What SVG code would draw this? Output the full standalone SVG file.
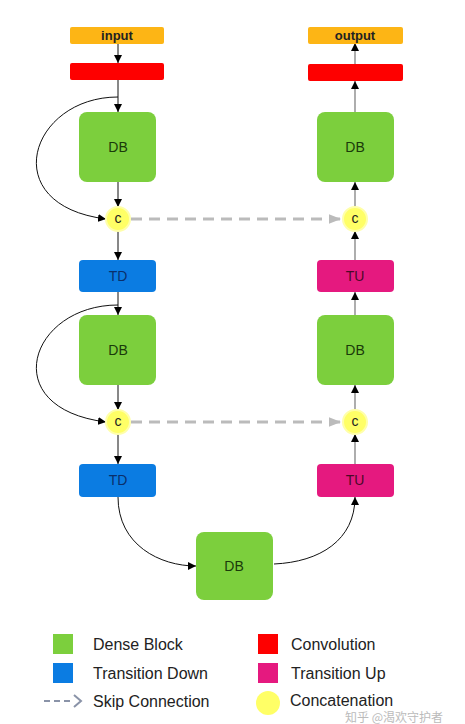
<svg xmlns="http://www.w3.org/2000/svg" width="465" height="724" viewBox="0 0 465 724">
<style>
.t{font-family:"Liberation Sans",Arial,sans-serif;}
.db{fill:#7ccf3d;}
.td{fill:#0b7ce2;}
.tu{fill:#e5197f;}
.cv{fill:#fe0000;}
.io{fill:#fdb515;}
.cc{fill:#ffff66;stroke:#ffffaa;stroke-width:2;}
.lbl{font-family:"Liberation Sans",Arial,sans-serif;font-size:14px;text-anchor:middle;}
.leg{font-family:"Liberation Sans",Arial,sans-serif;font-size:16px;fill:#222;}
.bl{stroke:#111;stroke-width:1;fill:none;}
.gr{stroke:#777;stroke-width:1.2;fill:none;}
.sk{stroke:#bbbbbb;stroke-width:3;fill:none;stroke-dasharray:11 7;}
</style>
<defs>
<marker id="ah" viewBox="0 0 10 10" refX="10" refY="5" markerWidth="8" markerHeight="8" markerUnits="userSpaceOnUse" orient="auto"><path d="M0,0 L10,5 L0,10 z" fill="#000"/></marker>
<marker id="ahg" viewBox="0 0 10 10" refX="10" refY="5" markerWidth="12" markerHeight="12" markerUnits="userSpaceOnUse" orient="auto"><path d="M0,1 L10,5 L0,9 z" fill="#bbbbbb"/></marker>
</defs>
<rect width="465" height="724" fill="#fff"/>
<g id="connectors">
<line class="bl" x1="118" y1="44" x2="118" y2="63" marker-end="url(#ah)"/>
<line class="bl" x1="118" y1="80" x2="118" y2="112" marker-end="url(#ah)"/>
<path class="bl" d="M118,97 C30,97 -5,205 106,219" marker-end="url(#ah)"/>
<line class="bl" x1="118" y1="182" x2="118" y2="207" marker-end="url(#ah)"/>
<line class="bl" x1="118" y1="231" x2="118" y2="260" marker-end="url(#ah)"/>
<line class="bl" x1="118" y1="292" x2="118" y2="315" marker-end="url(#ah)"/>
<path class="bl" d="M118,305 C30,305 -5,408 106,422" marker-end="url(#ah)"/>
<line class="bl" x1="118" y1="385" x2="118" y2="410" marker-end="url(#ah)"/>
<line class="bl" x1="118" y1="434" x2="118" y2="464" marker-end="url(#ah)"/>
<path class="bl" d="M118,497 C118,545 160,566 196,566" marker-end="url(#ah)"/>
<path class="bl" d="M274,564 C320,562 355,540 355,497" marker-end="url(#ah)"/>
<line class="gr" x1="355" y1="464" x2="355" y2="434" marker-end="url(#ah)"/>
<line class="gr" x1="355" y1="410" x2="355" y2="385" marker-end="url(#ah)"/>
<line class="gr" x1="355" y1="315" x2="355" y2="292" marker-end="url(#ah)"/>
<line class="gr" x1="355" y1="260" x2="355" y2="231" marker-end="url(#ah)"/>
<line class="gr" x1="355" y1="207" x2="355" y2="182" marker-end="url(#ah)"/>
<line class="gr" x1="355" y1="112" x2="355" y2="81" marker-end="url(#ah)"/>
<line class="gr" x1="355" y1="64" x2="355" y2="43" marker-end="url(#ah)"/>
<line class="sk" x1="131" y1="219" x2="341" y2="219" marker-end="url(#ahg)"/>
<line class="sk" x1="131" y1="422" x2="341" y2="422" marker-end="url(#ahg)"/>
</g>
<g id="input"><rect class="io" x="70" y="27" width="94" height="17" rx="2"/><text class="t" x="117" y="40" font-size="13" font-weight="bold" text-anchor="middle" fill="#222">input</text></g>
<g id="conv-in"><rect class="cv" x="70" y="63" width="94" height="17" rx="2"/></g>
<g id="output"><rect class="io" x="308" y="27" width="95" height="17" rx="2"/><text class="t" x="355" y="40" font-size="13" font-weight="bold" text-anchor="middle" fill="#222">output</text></g>
<g id="conv-out"><rect class="cv" x="308" y="64" width="95" height="17" rx="2"/></g>
<g id="db1"><rect class="db" x="79" y="112" width="77" height="70" rx="8"/><text class="lbl" x="118" y="152" fill="#1a3a0a">DB</text></g>
<g id="c1"><circle class="cc" cx="118" cy="219" r="12"/><text class="lbl" x="118" y="223" font-size="11" fill="#222">c</text></g>
<g id="td1"><rect class="td" x="79" y="260" width="77" height="32" rx="4"/><text class="lbl" x="118" y="281" fill="#0a2f6a">TD</text></g>
<g id="db2"><rect class="db" x="79" y="315" width="77" height="70" rx="8"/><text class="lbl" x="118" y="355" fill="#1a3a0a">DB</text></g>
<g id="c2"><circle class="cc" cx="118" cy="422" r="12"/><text class="lbl" x="118" y="426" font-size="11" fill="#222">c</text></g>
<g id="td2"><rect class="td" x="79" y="464" width="77" height="33" rx="4"/><text class="lbl" x="118" y="485" fill="#0a2f6a">TD</text></g>
<g id="db-bottom"><rect class="db" x="196" y="532" width="77" height="68" rx="8"/><text class="lbl" x="234" y="571" fill="#1a3a0a">DB</text></g>
<g id="tu2"><rect class="tu" x="317" y="464" width="77" height="33" rx="4"/><text class="lbl" x="355" y="485" fill="#4a0a28">TU</text></g>
<g id="c4"><circle class="cc" cx="355" cy="422" r="12"/><text class="lbl" x="355" y="426" font-size="11" fill="#222">c</text></g>
<g id="db4"><rect class="db" x="317" y="315" width="77" height="70" rx="8"/><text class="lbl" x="355" y="355" fill="#1a3a0a">DB</text></g>
<g id="tu1"><rect class="tu" x="317" y="260" width="77" height="32" rx="4"/><text class="lbl" x="355" y="281" fill="#4a0a28">TU</text></g>
<g id="c3"><circle class="cc" cx="355" cy="219" r="12"/><text class="lbl" x="355" y="223" font-size="11" fill="#222">c</text></g>
<g id="db3"><rect class="db" x="317" y="112" width="77" height="70" rx="8"/><text class="lbl" x="355" y="152" fill="#1a3a0a">DB</text></g>
<g id="legend">
<rect class="db" x="53" y="634" width="20" height="20"/>
<text class="leg" x="93" y="650">Dense Block</text>
<rect class="cv" x="258" y="634" width="20" height="20"/>
<text class="leg" x="291" y="650">Convolution</text>
<rect class="td" x="53" y="663" width="20" height="20"/>
<text class="leg" x="93" y="679">Transition Down</text>
<rect class="tu" x="258" y="663" width="20" height="20"/>
<text class="leg" x="291" y="679">Transition Up</text>
<line x1="44" y1="701" x2="74" y2="701" stroke="#8a93a8" stroke-width="2" stroke-dasharray="6 4"/>
<path d="M74,695 L81,701 L74,707" fill="none" stroke="#8a93a8" stroke-width="2"/>
<text class="leg" x="93" y="707">Skip Connection</text>
<circle cx="268" cy="703" r="12" fill="#ffff66"/>
<text class="leg" x="290" y="706">Concatenation</text>
<text x="345" y="722" font-family="'Noto Sans CJK SC',sans-serif" font-size="12" fill="#bbbbbb">知乎 @渴欢守护者</text>
</g>
</svg>
